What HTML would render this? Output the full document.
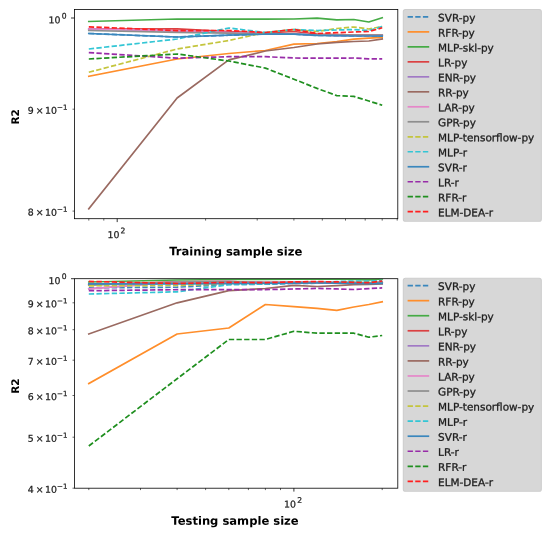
<!DOCTYPE html>
<html><head><meta charset="utf-8"><title>R2 vs sample size</title>
<style>html,body{margin:0;padding:0;background:#fff}body{width:550px;height:533px;overflow:hidden}</style></head>
<body>
<svg width="550" height="533" viewBox="0 0 550 533" style="display:block" font-family="'DejaVu Sans', 'Liberation Sans', sans-serif">
<rect width="550" height="533" fill="#fff"/>
<g>
<clipPath id="c1"><rect x="74.4" y="9.4" width="323.4" height="209.29999999999998"/></clipPath>
<g clip-path="url(#c1)">
<polyline points="88.8,33.5 177.1,37.0 228.8,35.2 265.4,34.0 293.9,34.2 317.1,35.4 336.8,35.6 353.8,36.0 368.8,36.0 382.2,36.2" fill="none" stroke="#3a87bd" stroke-width="1.7" stroke-dasharray="5.34 2.31" stroke-linejoin="round"/>
<polyline points="88.8,76.3 177.1,59.0 228.8,53.5 265.4,50.5 293.9,44.2 317.1,43.5 336.8,41.5 353.8,39.2 368.8,38.2 382.2,37.5" fill="none" stroke="#ff8e2b" stroke-width="1.7" stroke-linecap="square" stroke-linejoin="round"/>
<polyline points="88.8,21.5 177.1,19.0 228.8,19.2 265.4,19.2 293.9,19.0 317.1,18.2 336.8,19.8 353.8,19.5 368.8,22.0 382.2,17.8" fill="none" stroke="#45ab45" stroke-width="1.7" stroke-linecap="square" stroke-linejoin="round"/>
<polyline points="88.8,29.0 177.1,28.8 228.8,31.5 265.4,33.0 293.9,31.5 317.1,34.0 336.8,34.5 353.8,35.0 368.8,35.0 382.2,35.0" fill="none" stroke="#db4142" stroke-width="1.7" stroke-linecap="square" stroke-linejoin="round"/>
<polyline points="88.8,29.0 177.1,30.8 228.8,32.5 265.4,33.8 293.9,34.0 317.1,35.0 336.8,35.3 353.8,35.5 368.8,35.5 382.2,35.5" fill="none" stroke="#a179c5" stroke-width="1.7" stroke-linecap="square" stroke-linejoin="round"/>
<polyline points="88.8,208.8 177.1,98.0 228.8,59.9 265.4,51.0 293.9,47.5 317.1,44.0 336.8,42.3 353.8,41.5 368.8,41.0 382.2,39.0" fill="none" stroke="#9a6a61" stroke-width="1.7" stroke-linecap="square" stroke-linejoin="round"/>
<polyline points="88.8,29.0 177.1,30.8 228.8,32.5 265.4,33.8 293.9,34.0 317.1,35.0 336.8,35.3 353.8,35.5 368.8,35.5 382.2,35.5" fill="none" stroke="#e687c9" stroke-width="1.7" stroke-linecap="square" stroke-linejoin="round"/>
<polyline points="88.8,30.5 177.1,32.3 228.8,33.2 265.4,33.9 293.9,34.0 317.1,35.0 336.8,35.0 353.8,35.0 368.8,35.0 382.2,35.0" fill="none" stroke="#8e8e8e" stroke-width="1.7" stroke-linecap="square" stroke-linejoin="round"/>
<polyline points="88.8,72.3 177.1,49.0 228.8,40.5 265.4,32.5 293.9,29.5 317.1,31.5 336.8,28.5 353.8,27.0 368.8,29.0 382.2,26.5" fill="none" stroke="#c4c53d" stroke-width="1.7" stroke-dasharray="5.34 2.31" stroke-linejoin="round"/>
<polyline points="88.8,49.0 177.1,39.0 228.8,28.0 265.4,32.5 293.9,29.5 317.1,30.5 336.8,30.0 353.8,29.5 368.8,30.5 382.2,26.5" fill="none" stroke="#33c6d5" stroke-width="1.7" stroke-dasharray="5.34 2.31" stroke-linejoin="round"/>
<polyline points="88.8,33.5 177.1,37.0 228.8,35.2 265.4,34.0 293.9,34.2 317.1,35.4 336.8,35.6 353.8,36.0 368.8,36.0 382.2,36.2" fill="none" stroke="#3a87bd" stroke-width="1.7" stroke-linecap="square" stroke-linejoin="round"/>
<polyline points="88.8,52.6 177.1,58.2 228.8,56.7 265.4,56.7 293.9,58.0 317.1,58.2 336.8,58.2 353.8,58.0 368.8,58.8 382.2,58.8" fill="none" stroke="#982ca8" stroke-width="1.7" stroke-dasharray="5.34 2.31" stroke-linejoin="round"/>
<polyline points="88.8,59.0 177.1,54.0 228.8,61.0 265.4,68.1 293.9,79.2 317.1,88.4 336.8,95.6 353.8,96.4 368.8,101.0 382.2,105.2" fill="none" stroke="#1f8f1f" stroke-width="1.7" stroke-dasharray="5.34 2.31" stroke-linejoin="round"/>
<polyline points="88.8,26.8 177.1,30.6 228.8,30.5 265.4,32.5 293.9,29.5 317.1,33.5 336.8,32.7 353.8,32.0 368.8,31.5 382.2,27.8" fill="none" stroke="#ff1f1f" stroke-width="1.7" stroke-dasharray="5.34 2.31" stroke-linejoin="round"/>
</g>
<rect x="74.4" y="9.4" width="323.4" height="209.29999999999998" fill="none" stroke="#000" stroke-width="0.8"/>
<line x1="117.2" x2="117.2" y1="218.7" y2="222.1" stroke="#000" stroke-width="0.8"/>
<line x1="88.8" x2="88.8" y1="218.7" y2="220.6" stroke="#000" stroke-width="0.6"/>
<line x1="103.8" x2="103.8" y1="218.7" y2="220.6" stroke="#000" stroke-width="0.6"/>
<line x1="205.6" x2="205.6" y1="218.7" y2="220.6" stroke="#000" stroke-width="0.6"/>
<line x1="257.2" x2="257.2" y1="218.7" y2="220.6" stroke="#000" stroke-width="0.6"/>
<line x1="293.9" x2="293.9" y1="218.7" y2="220.6" stroke="#000" stroke-width="0.6"/>
<line x1="322.3" x2="322.3" y1="218.7" y2="220.6" stroke="#000" stroke-width="0.6"/>
<line x1="345.5" x2="345.5" y1="218.7" y2="220.6" stroke="#000" stroke-width="0.6"/>
<line x1="365.2" x2="365.2" y1="218.7" y2="220.6" stroke="#000" stroke-width="0.6"/>
<line x1="382.2" x2="382.2" y1="218.7" y2="220.6" stroke="#000" stroke-width="0.6"/>
<line x1="397.2" x2="397.2" y1="218.7" y2="220.6" stroke="#000" stroke-width="0.6"/>
<line x1="71.0" x2="74.4" y1="18.0" y2="18.0" stroke="#000" stroke-width="0.8"/>
<line x1="72.5" x2="74.4" y1="109.2" y2="109.2" stroke="#000" stroke-width="0.6"/>
<line x1="72.5" x2="74.4" y1="211.1" y2="211.1" stroke="#000" stroke-width="0.6"/>
<text transform="translate(66.50,23.20) rotate(0.03)" font-size="9.4" text-anchor="end" fill="#1c1c1c" stroke="#1c1c1c" stroke-width="0.25">10<tspan dx="1.2" dy="-4.8" font-size="7.6">0</tspan></text>
<text transform="translate(67.50,113.69) rotate(0.03)" font-size="9.4" text-anchor="end" fill="#1c1c1c" stroke="#1c1c1c" stroke-width="0.25">9<tspan dx="1.95">×</tspan><tspan dx="1.5">10</tspan><tspan dy="-4.0" font-size="7.00">−</tspan><tspan dx="0.2" font-size="7.00">1</tspan></text>
<text transform="translate(67.50,215.64) rotate(0.03)" font-size="9.4" text-anchor="end" fill="#1c1c1c" stroke="#1c1c1c" stroke-width="0.25">8<tspan dx="1.95">×</tspan><tspan dx="1.5">10</tspan><tspan dy="-4.0" font-size="7.00">−</tspan><tspan dx="0.2" font-size="7.00">1</tspan></text>
<text transform="translate(116.43,238.10) rotate(0.03)" font-size="9.4" text-anchor="middle" fill="#1c1c1c" stroke="#1c1c1c" stroke-width="0.25">10<tspan dx="1.2" dy="-4.8" font-size="7.6">2</tspan></text>
<text transform="translate(235.7,255.4) rotate(0.03)" font-size="11.57" font-weight="bold" text-anchor="middle">Training sample size</text>
<text transform="translate(19.1,116.8) rotate(-90.03)" font-size="10.5" font-weight="bold" text-anchor="middle">R2</text>
<rect x="403.3" y="9.5" width="137.99999999999994" height="211.8" rx="2.1" fill="#d7d7d7" stroke="#cdcdcd" stroke-width="1.05"/>
<line x1="407.6" x2="429.2" y1="16.90" y2="16.90" stroke="#3a87bd" stroke-width="1.7" stroke-dasharray="5.34 2.31"/>
<text transform="translate(438.1,21.40) rotate(0.03)" font-size="10.46" fill="#1c1c1c" stroke="#1c1c1c" stroke-width="0.3">SVR-py</text>
<line x1="407.6" x2="429.2" y1="31.88" y2="31.88" stroke="#ff8e2b" stroke-width="1.7"/>
<text transform="translate(438.1,36.38) rotate(0.03)" font-size="10.46" fill="#1c1c1c" stroke="#1c1c1c" stroke-width="0.3">RFR-py</text>
<line x1="407.6" x2="429.2" y1="46.87" y2="46.87" stroke="#45ab45" stroke-width="1.7"/>
<text transform="translate(438.1,51.37) rotate(0.03)" font-size="10.46" fill="#1c1c1c" stroke="#1c1c1c" stroke-width="0.3">MLP-skl-py</text>
<line x1="407.6" x2="429.2" y1="61.85" y2="61.85" stroke="#db4142" stroke-width="1.7"/>
<text transform="translate(438.1,66.35) rotate(0.03)" font-size="10.46" fill="#1c1c1c" stroke="#1c1c1c" stroke-width="0.3">LR-py</text>
<line x1="407.6" x2="429.2" y1="76.84" y2="76.84" stroke="#a179c5" stroke-width="1.7"/>
<text transform="translate(438.1,81.34) rotate(0.03)" font-size="10.46" fill="#1c1c1c" stroke="#1c1c1c" stroke-width="0.3">ENR-py</text>
<line x1="407.6" x2="429.2" y1="91.82" y2="91.82" stroke="#9a6a61" stroke-width="1.7"/>
<text transform="translate(438.1,96.32) rotate(0.03)" font-size="10.46" fill="#1c1c1c" stroke="#1c1c1c" stroke-width="0.3">RR-py</text>
<line x1="407.6" x2="429.2" y1="106.81" y2="106.81" stroke="#e687c9" stroke-width="1.7"/>
<text transform="translate(438.1,111.31) rotate(0.03)" font-size="10.46" fill="#1c1c1c" stroke="#1c1c1c" stroke-width="0.3">LAR-py</text>
<line x1="407.6" x2="429.2" y1="121.79" y2="121.79" stroke="#8e8e8e" stroke-width="1.7"/>
<text transform="translate(438.1,126.29) rotate(0.03)" font-size="10.46" fill="#1c1c1c" stroke="#1c1c1c" stroke-width="0.3">GPR-py</text>
<line x1="407.6" x2="429.2" y1="136.78" y2="136.78" stroke="#c4c53d" stroke-width="1.7" stroke-dasharray="5.34 2.31"/>
<text transform="translate(438.1,141.28) rotate(0.03)" font-size="10.46" fill="#1c1c1c" stroke="#1c1c1c" stroke-width="0.3">MLP-tensorflow-py</text>
<line x1="407.6" x2="429.2" y1="151.77" y2="151.77" stroke="#33c6d5" stroke-width="1.7" stroke-dasharray="5.34 2.31"/>
<text transform="translate(438.1,156.27) rotate(0.03)" font-size="10.46" fill="#1c1c1c" stroke="#1c1c1c" stroke-width="0.3">MLP-r</text>
<line x1="407.6" x2="429.2" y1="166.75" y2="166.75" stroke="#3a87bd" stroke-width="1.7"/>
<text transform="translate(438.1,171.25) rotate(0.03)" font-size="10.46" fill="#1c1c1c" stroke="#1c1c1c" stroke-width="0.3">SVR-r</text>
<line x1="407.6" x2="429.2" y1="181.73" y2="181.73" stroke="#982ca8" stroke-width="1.7" stroke-dasharray="5.34 2.31"/>
<text transform="translate(438.1,186.23) rotate(0.03)" font-size="10.46" fill="#1c1c1c" stroke="#1c1c1c" stroke-width="0.3">LR-r</text>
<line x1="407.6" x2="429.2" y1="196.72" y2="196.72" stroke="#1f8f1f" stroke-width="1.7" stroke-dasharray="5.34 2.31"/>
<text transform="translate(438.1,201.22) rotate(0.03)" font-size="10.46" fill="#1c1c1c" stroke="#1c1c1c" stroke-width="0.3">RFR-r</text>
<line x1="407.6" x2="429.2" y1="211.71" y2="211.71" stroke="#ff1f1f" stroke-width="1.7" stroke-dasharray="5.34 2.31"/>
<text transform="translate(438.1,216.21) rotate(0.03)" font-size="10.46" fill="#1c1c1c" stroke="#1c1c1c" stroke-width="0.3">ELM-DEA-r</text>
<clipPath id="c2"><rect x="74.4" y="278.7" width="323.4" height="209.5"/></clipPath>
<g clip-path="url(#c2)">
<polyline points="88.8,287.8 177.1,287.2 228.8,284.5 265.4,284.2 293.9,283.5 317.1,283.2 336.8,283.2 353.8,283.2 368.8,283.4 382.2,283.2" fill="none" stroke="#3a87bd" stroke-width="1.7" stroke-dasharray="5.34 2.31" stroke-linejoin="round"/>
<polyline points="88.8,383.6 177.1,334.0 228.8,328.0 265.4,304.5 293.9,306.7 317.1,308.4 336.8,310.3 353.8,307.0 368.8,304.5 382.2,301.8" fill="none" stroke="#ff8e2b" stroke-width="1.7" stroke-linecap="square" stroke-linejoin="round"/>
<polyline points="88.8,282.0 177.1,280.0 228.8,279.5 265.4,279.3 293.9,279.2 317.1,279.2 336.8,279.2 353.8,279.3 368.8,279.9 382.2,278.9" fill="none" stroke="#45ab45" stroke-width="1.7" stroke-linecap="square" stroke-linejoin="round"/>
<polyline points="88.8,284.5 177.1,281.8 228.8,281.6 265.4,282.5 293.9,282.4 317.1,282.3 336.8,282.5 353.8,282.6 368.8,282.8 382.2,282.4" fill="none" stroke="#db4142" stroke-width="1.7" stroke-linecap="square" stroke-linejoin="round"/>
<polyline points="88.8,288.8 177.1,281.8 228.8,281.6 265.4,282.5 293.9,282.4 317.1,282.3 336.8,282.5 353.8,282.6 368.8,282.8 382.2,282.4" fill="none" stroke="#a179c5" stroke-width="1.7" stroke-linecap="square" stroke-linejoin="round"/>
<polyline points="88.8,334.0 177.1,302.8 228.8,290.7 265.4,288.5 293.9,285.3 317.1,286.5 336.8,285.6 353.8,284.6 368.8,284.3 382.2,284.0" fill="none" stroke="#9a6a61" stroke-width="1.7" stroke-linecap="square" stroke-linejoin="round"/>
<polyline points="88.8,288.8 177.1,281.8 228.8,281.6 265.4,282.5 293.9,282.4 317.1,282.3 336.8,282.5 353.8,282.6 368.8,282.8 382.2,282.4" fill="none" stroke="#e687c9" stroke-width="1.7" stroke-linecap="square" stroke-linejoin="round"/>
<polyline points="88.8,285.0 177.1,282.0 228.8,281.7 265.4,282.5 293.9,282.4 317.1,282.3 336.8,282.5 353.8,282.6 368.8,282.8 382.2,282.4" fill="none" stroke="#8e8e8e" stroke-width="1.7" stroke-linecap="square" stroke-linejoin="round"/>
<polyline points="88.8,285.8 177.1,285.4 228.8,284.0 265.4,283.3 293.9,282.6 317.1,282.3 336.8,282.0 353.8,281.8 368.8,282.0 382.2,281.0" fill="none" stroke="#c4c53d" stroke-width="1.7" stroke-dasharray="5.34 2.31" stroke-linejoin="round"/>
<polyline points="88.8,294.0 177.1,291.8 228.8,284.6 265.4,284.0 293.9,283.0 317.1,282.3 336.8,281.6 353.8,281.0 368.8,281.0 382.2,280.6" fill="none" stroke="#33c6d5" stroke-width="1.7" stroke-dasharray="5.34 2.31" stroke-linejoin="round"/>
<polyline points="88.8,283.8 177.1,283.8 228.8,283.6 265.4,283.4 293.9,283.2 317.1,283.0 336.8,283.2 353.8,283.4 368.8,283.6 382.2,283.4" fill="none" stroke="#3a87bd" stroke-width="1.7" stroke-linecap="square" stroke-linejoin="round"/>
<polyline points="88.8,290.7 177.1,289.7 228.8,289.6 265.4,289.6 293.9,289.0 317.1,288.4 336.8,288.9 353.8,289.5 368.8,288.6 382.2,287.9" fill="none" stroke="#982ca8" stroke-width="1.7" stroke-dasharray="5.34 2.31" stroke-linejoin="round"/>
<polyline points="88.8,446.0 177.1,378.7 228.8,339.5 265.4,339.5 293.9,331.3 317.1,333.2 336.8,333.2 353.8,333.2 368.8,337.2 382.2,335.5" fill="none" stroke="#1f8f1f" stroke-width="1.7" stroke-dasharray="5.34 2.31" stroke-linejoin="round"/>
<polyline points="88.8,281.4 177.1,283.5 228.8,282.4 265.4,282.6 293.9,281.9 317.1,281.6 336.8,281.9 353.8,282.3 368.8,282.7 382.2,281.0" fill="none" stroke="#ff1f1f" stroke-width="1.7" stroke-dasharray="5.34 2.31" stroke-linejoin="round"/>
</g>
<rect x="74.4" y="278.7" width="323.4" height="209.5" fill="none" stroke="#000" stroke-width="0.8"/>
<line x1="293.9" x2="293.9" y1="488.2" y2="491.6" stroke="#000" stroke-width="0.8"/>
<line x1="88.8" x2="88.8" y1="488.2" y2="490.1" stroke="#000" stroke-width="0.6"/>
<line x1="140.5" x2="140.5" y1="488.2" y2="490.1" stroke="#000" stroke-width="0.6"/>
<line x1="177.1" x2="177.1" y1="488.2" y2="490.1" stroke="#000" stroke-width="0.6"/>
<line x1="205.6" x2="205.6" y1="488.2" y2="490.1" stroke="#000" stroke-width="0.6"/>
<line x1="228.8" x2="228.8" y1="488.2" y2="490.1" stroke="#000" stroke-width="0.6"/>
<line x1="248.4" x2="248.4" y1="488.2" y2="490.1" stroke="#000" stroke-width="0.6"/>
<line x1="265.4" x2="265.4" y1="488.2" y2="490.1" stroke="#000" stroke-width="0.6"/>
<line x1="280.5" x2="280.5" y1="488.2" y2="490.1" stroke="#000" stroke-width="0.6"/>
<line x1="382.2" x2="382.2" y1="488.2" y2="490.1" stroke="#000" stroke-width="0.6"/>
<line x1="71.0" x2="74.4" y1="278.7" y2="278.7" stroke="#000" stroke-width="0.8"/>
<line x1="72.5" x2="74.4" y1="302.8" y2="302.8" stroke="#000" stroke-width="0.6"/>
<line x1="72.5" x2="74.4" y1="329.7" y2="329.7" stroke="#000" stroke-width="0.6"/>
<line x1="72.5" x2="74.4" y1="360.2" y2="360.2" stroke="#000" stroke-width="0.6"/>
<line x1="72.5" x2="74.4" y1="395.5" y2="395.5" stroke="#000" stroke-width="0.6"/>
<line x1="72.5" x2="74.4" y1="437.2" y2="437.2" stroke="#000" stroke-width="0.6"/>
<line x1="72.5" x2="74.4" y1="488.2" y2="488.2" stroke="#000" stroke-width="0.6"/>
<text transform="translate(66.50,283.90) rotate(0.03)" font-size="9.4" text-anchor="end" fill="#1c1c1c" stroke="#1c1c1c" stroke-width="0.25">10<tspan dx="1.2" dy="-4.8" font-size="7.6">0</tspan></text>
<text transform="translate(67.50,307.29) rotate(0.03)" font-size="9.4" text-anchor="end" fill="#1c1c1c" stroke="#1c1c1c" stroke-width="0.25">9<tspan dx="1.95">×</tspan><tspan dx="1.5">10</tspan><tspan dy="-4.0" font-size="7.00">−</tspan><tspan dx="0.2" font-size="7.00">1</tspan></text>
<text transform="translate(67.50,334.22) rotate(0.03)" font-size="9.4" text-anchor="end" fill="#1c1c1c" stroke="#1c1c1c" stroke-width="0.25">8<tspan dx="1.95">×</tspan><tspan dx="1.5">10</tspan><tspan dy="-4.0" font-size="7.00">−</tspan><tspan dx="0.2" font-size="7.00">1</tspan></text>
<text transform="translate(67.50,364.75) rotate(0.03)" font-size="9.4" text-anchor="end" fill="#1c1c1c" stroke="#1c1c1c" stroke-width="0.25">7<tspan dx="1.95">×</tspan><tspan dx="1.5">10</tspan><tspan dy="-4.0" font-size="7.00">−</tspan><tspan dx="0.2" font-size="7.00">1</tspan></text>
<text transform="translate(67.50,399.99) rotate(0.03)" font-size="9.4" text-anchor="end" fill="#1c1c1c" stroke="#1c1c1c" stroke-width="0.25">6<tspan dx="1.95">×</tspan><tspan dx="1.5">10</tspan><tspan dy="-4.0" font-size="7.00">−</tspan><tspan dx="0.2" font-size="7.00">1</tspan></text>
<text transform="translate(67.50,441.68) rotate(0.03)" font-size="9.4" text-anchor="end" fill="#1c1c1c" stroke="#1c1c1c" stroke-width="0.25">5<tspan dx="1.95">×</tspan><tspan dx="1.5">10</tspan><tspan dy="-4.0" font-size="7.00">−</tspan><tspan dx="0.2" font-size="7.00">1</tspan></text>
<text transform="translate(67.50,492.70) rotate(0.03)" font-size="9.4" text-anchor="end" fill="#1c1c1c" stroke="#1c1c1c" stroke-width="0.25">4<tspan dx="1.95">×</tspan><tspan dx="1.5">10</tspan><tspan dy="-4.0" font-size="7.00">−</tspan><tspan dx="0.2" font-size="7.00">1</tspan></text>
<text transform="translate(293.08,507.60) rotate(0.03)" font-size="9.4" text-anchor="middle" fill="#1c1c1c" stroke="#1c1c1c" stroke-width="0.25">10<tspan dx="1.2" dy="-4.8" font-size="7.6">2</tspan></text>
<text transform="translate(235.0,524.8) rotate(0.03)" font-size="11.57" font-weight="bold" text-anchor="middle">Testing sample size</text>
<text transform="translate(19.1,386.1) rotate(-90.03)" font-size="10.5" font-weight="bold" text-anchor="middle">R2</text>
<rect x="403.3" y="278.2" width="137.99999999999994" height="213.1" rx="2.1" fill="#d7d7d7" stroke="#cdcdcd" stroke-width="1.05"/>
<line x1="407.6" x2="429.2" y1="285.60" y2="285.60" stroke="#3a87bd" stroke-width="1.7" stroke-dasharray="5.34 2.31"/>
<text transform="translate(438.1,290.10) rotate(0.03)" font-size="10.46" fill="#1c1c1c" stroke="#1c1c1c" stroke-width="0.3">SVR-py</text>
<line x1="407.6" x2="429.2" y1="300.66" y2="300.66" stroke="#ff8e2b" stroke-width="1.7"/>
<text transform="translate(438.1,305.16) rotate(0.03)" font-size="10.46" fill="#1c1c1c" stroke="#1c1c1c" stroke-width="0.3">RFR-py</text>
<line x1="407.6" x2="429.2" y1="315.72" y2="315.72" stroke="#45ab45" stroke-width="1.7"/>
<text transform="translate(438.1,320.22) rotate(0.03)" font-size="10.46" fill="#1c1c1c" stroke="#1c1c1c" stroke-width="0.3">MLP-skl-py</text>
<line x1="407.6" x2="429.2" y1="330.78" y2="330.78" stroke="#db4142" stroke-width="1.7"/>
<text transform="translate(438.1,335.28) rotate(0.03)" font-size="10.46" fill="#1c1c1c" stroke="#1c1c1c" stroke-width="0.3">LR-py</text>
<line x1="407.6" x2="429.2" y1="345.84" y2="345.84" stroke="#a179c5" stroke-width="1.7"/>
<text transform="translate(438.1,350.34) rotate(0.03)" font-size="10.46" fill="#1c1c1c" stroke="#1c1c1c" stroke-width="0.3">ENR-py</text>
<line x1="407.6" x2="429.2" y1="360.90" y2="360.90" stroke="#9a6a61" stroke-width="1.7"/>
<text transform="translate(438.1,365.40) rotate(0.03)" font-size="10.46" fill="#1c1c1c" stroke="#1c1c1c" stroke-width="0.3">RR-py</text>
<line x1="407.6" x2="429.2" y1="375.96" y2="375.96" stroke="#e687c9" stroke-width="1.7"/>
<text transform="translate(438.1,380.46) rotate(0.03)" font-size="10.46" fill="#1c1c1c" stroke="#1c1c1c" stroke-width="0.3">LAR-py</text>
<line x1="407.6" x2="429.2" y1="391.02" y2="391.02" stroke="#8e8e8e" stroke-width="1.7"/>
<text transform="translate(438.1,395.52) rotate(0.03)" font-size="10.46" fill="#1c1c1c" stroke="#1c1c1c" stroke-width="0.3">GPR-py</text>
<line x1="407.6" x2="429.2" y1="406.08" y2="406.08" stroke="#c4c53d" stroke-width="1.7" stroke-dasharray="5.34 2.31"/>
<text transform="translate(438.1,410.58) rotate(0.03)" font-size="10.46" fill="#1c1c1c" stroke="#1c1c1c" stroke-width="0.3">MLP-tensorflow-py</text>
<line x1="407.6" x2="429.2" y1="421.14" y2="421.14" stroke="#33c6d5" stroke-width="1.7" stroke-dasharray="5.34 2.31"/>
<text transform="translate(438.1,425.64) rotate(0.03)" font-size="10.46" fill="#1c1c1c" stroke="#1c1c1c" stroke-width="0.3">MLP-r</text>
<line x1="407.6" x2="429.2" y1="436.20" y2="436.20" stroke="#3a87bd" stroke-width="1.7"/>
<text transform="translate(438.1,440.70) rotate(0.03)" font-size="10.46" fill="#1c1c1c" stroke="#1c1c1c" stroke-width="0.3">SVR-r</text>
<line x1="407.6" x2="429.2" y1="451.26" y2="451.26" stroke="#982ca8" stroke-width="1.7" stroke-dasharray="5.34 2.31"/>
<text transform="translate(438.1,455.76) rotate(0.03)" font-size="10.46" fill="#1c1c1c" stroke="#1c1c1c" stroke-width="0.3">LR-r</text>
<line x1="407.6" x2="429.2" y1="466.32" y2="466.32" stroke="#1f8f1f" stroke-width="1.7" stroke-dasharray="5.34 2.31"/>
<text transform="translate(438.1,470.82) rotate(0.03)" font-size="10.46" fill="#1c1c1c" stroke="#1c1c1c" stroke-width="0.3">RFR-r</text>
<line x1="407.6" x2="429.2" y1="481.38" y2="481.38" stroke="#ff1f1f" stroke-width="1.7" stroke-dasharray="5.34 2.31"/>
<text transform="translate(438.1,485.88) rotate(0.03)" font-size="10.46" fill="#1c1c1c" stroke="#1c1c1c" stroke-width="0.3">ELM-DEA-r</text>
</g>
</svg>
</body></html>
